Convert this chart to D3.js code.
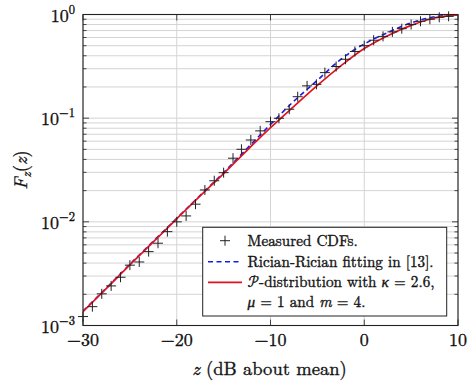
<!DOCTYPE html>
<html><head><meta charset="utf-8">
<script src="https://cdn.jsdelivr.net/npm/d3@7"></script>
<style>body{margin:0;background:#fff}svg{display:block}</style>
</head><body><svg id="c" width="474" height="387"></svg>
<script>
// measured CDF points [z dB, F]
const measuredX = [-30,-29,-28,-27,-26,-25,-24,-23,-22,-21,-20,-19,-18,-17,-16,-15,-14,-13.1,-12.1,-11.1,-10,-9.1,-8,-7.1,-6.1,-5.1,-4.2,-3,-2,-1,0,1,2,3,4,5,6,7,8,9];
const measuredY = [0.00122,0.00152,0.00202,0.00241,0.00292,0.00382,0.0041,0.00516,0.00622,0.00804,0.0100,0.0114,0.0148,0.0203,0.0249,0.0298,0.0411,0.0501,0.0616,0.0754,0.0925,0.0998,0.122,0.161,0.205,0.212,0.275,0.315,0.37,0.44,0.50,0.565,0.615,0.68,0.73,0.80,0.86,0.90,0.94,0.96];
// curves
const curveX = [-30,-27.5,-25,-22.5,-20,-17.5,-15,-12.5,-10,-7.5,-5,-2.5,0,2.5,5,7.5,10];
const ricianY = [0.00138,0.0023,0.0039,0.0065,0.0108,0.018,0.0298,0.051,0.087,0.146,0.232,0.37,0.52,0.67,0.83,0.95,0.995];
const pdistY  = [0.00136,0.00228,0.00385,0.0064,0.0107,0.0178,0.0292,0.049,0.081,0.13,0.207,0.32,0.47,0.625,0.785,0.925,0.99];
const xTicks = [-30,-20,-10,0,10];
const yTicks = [1e-3,1e-2,1e-1,1];
const yTickExp = ["−3","−2","−1","0"];

const FONT='"Latin Modern Roman","Liberation Serif",serif';
const svg = d3.select("#c").style("font-family",FONT);
const L=83,R=458,T=14.5,B=325.5;
const x = d3.scaleLinear().domain([-30,10]).range([L,R]);
const y = d3.scaleLog().domain([1e-3,1]).range([B,T]);

const minor=[];
for(let e=-3;e<0;e++) for(let k=2;k<=9;k++) minor.push(k*Math.pow(10,e));

const grid = svg.append("g").attr("stroke","#d4d4d4").attr("stroke-width",1);
minor.concat(yTicks).forEach(v=>{
  grid.append("line").attr("x1",L).attr("x2",R).attr("y1",y(v)).attr("y2",y(v));
});
xTicks.forEach(v=>{
  grid.append("line").attr("y1",T).attr("y2",B).attr("x1",x(v)).attr("x2",x(v));
});

const tk = svg.append("g").attr("stroke","#333").attr("stroke-width",0.9);
minor.forEach(v=>{
  tk.append("line").attr("x1",L).attr("x2",L+3.5).attr("y1",y(v)).attr("y2",y(v));
  tk.append("line").attr("x1",R).attr("x2",R-3.5).attr("y1",y(v)).attr("y2",y(v));
});
yTicks.forEach(v=>{
  tk.append("line").attr("x1",L).attr("x2",L+6).attr("y1",y(v)).attr("y2",y(v));
  tk.append("line").attr("x1",R).attr("x2",R-6).attr("y1",y(v)).attr("y2",y(v));
});
xTicks.forEach(v=>{
  tk.append("line").attr("x1",x(v)).attr("x2",x(v)).attr("y1",B).attr("y2",B-6);
  tk.append("line").attr("x1",x(v)).attr("x2",x(v)).attr("y1",T).attr("y2",T+6);
});

const line = d3.line().x(d=>x(d[0])).y(d=>y(d[1])).curve(d3.curveMonotoneX);
svg.append("clipPath").attr("id","pc").append("rect").attr("x",L).attr("y",T-1).attr("width",R-L).attr("height",B-T+1);
const plot = svg.append("g").attr("clip-path","url(#pc)");
plot.append("path").attr("d",line(curveX.map((v,i)=>[v,ricianY[i]])))
  .attr("fill","none").attr("stroke","#1a1ae6").attr("stroke-width",1.6).attr("stroke-dasharray","5,3.5");
plot.append("path").attr("d",line(curveX.map((v,i)=>[v,pdistY[i]])))
  .attr("fill","none").attr("stroke","#e0141e").attr("stroke-width",1.7);

const mk = svg.append("g").attr("stroke","#222").attr("stroke-width",1);
const s=5;
measuredX.forEach((v,i)=>{
  const px=x(v), py=y(measuredY[i]);
  mk.append("line").attr("x1",px-s).attr("x2",px+s).attr("y1",py).attr("y2",py);
  mk.append("line").attr("x1",px).attr("x2",px).attr("y1",py-s).attr("y2",py+s);
});

svg.append("rect").attr("x",L).attr("y",T).attr("width",R-L).attr("height",B-T)
  .attr("fill","none").attr("stroke","#222").attr("stroke-width",1.1);

const TS=18, TXT="#111", SW=0.35;
function txt(sel){return sel.attr("fill",TXT).attr("stroke",TXT).attr("stroke-width",SW);}
xTicks.forEach(v=>{
  txt(svg.append("text")).attr("x",x(v)).attr("y",B+20).attr("text-anchor","middle")
    .attr("font-size",TS).text(v<0?"−"+Math.abs(v):String(v));
});
yTicks.forEach((v,i)=>{
  const t=txt(svg.append("text")).attr("x",L-8).attr("y",y(v)+7).attr("text-anchor","end").attr("font-size",TS);
  t.append("tspan").text("10");
  t.append("tspan").attr("dy",-8).attr("font-size",12.5).text(yTickExp[i]);
});

const xl = txt(svg.append("text")).attr("x",(L+R)/2-1).attr("y",375).attr("text-anchor","middle").attr("font-size",18.6);
xl.append("tspan").attr("font-style","italic").text("z");
xl.append("tspan").text(" (dB about mean)");
const yl = txt(svg.append("text")).attr("transform",`translate(27,${(T+B)/2}) rotate(-90)`).attr("text-anchor","middle").attr("font-size",18.6);
yl.append("tspan").attr("font-style","italic").text("F");
yl.append("tspan").attr("font-style","italic").attr("font-size",13).attr("dy",4).text("z");
yl.append("tspan").attr("dy",-4).text("(");
yl.append("tspan").attr("font-style","italic").text("z");
yl.append("tspan").text(")");

const lg = svg.append("g");
lg.append("rect").attr("x",202.7).attr("y",227.3).attr("width",244).attr("height",88.7)
  .attr("fill","#fff").attr("stroke","#222").attr("stroke-width",1);
const rows=[240.7,261.7,282.3,301.7];
const sx0=208, sx1=242, tx=247.5;
lg.append("line").attr("x1",225-s).attr("x2",225+s).attr("y1",rows[0]).attr("y2",rows[0]).attr("stroke","#222");
lg.append("line").attr("x1",225).attr("x2",225).attr("y1",rows[0]-s).attr("y2",rows[0]+s).attr("stroke","#222");
lg.append("line").attr("x1",sx0).attr("x2",sx1).attr("y1",rows[1]).attr("y2",rows[1])
  .attr("stroke","#1a1ae6").attr("stroke-width",1.6).attr("stroke-dasharray","5,3.5");
lg.append("line").attr("x1",sx0).attr("x2",sx1).attr("y1",rows[2]).attr("y2",rows[2])
  .attr("stroke","#e0141e").attr("stroke-width",1.7);
const fs=15.2;
txt(lg.append("text")).attr("x",tx).attr("y",rows[0]+5).attr("font-size",fs).text("Measured CDFs.");
txt(lg.append("text")).attr("x",tx).attr("y",rows[1]+5).attr("font-size",fs).text("Rician-Rician fitting in [13].");
const t3=txt(lg.append("text")).attr("x",tx).attr("y",rows[2]+5).attr("font-size",fs);
t3.append("tspan").style("font-family",'"Latin Modern Math","Latin Modern Roman",serif').text("𝒫");
t3.append("tspan").text("-distribution with ");
t3.append("tspan").attr("font-style","italic").text("κ");
t3.append("tspan").text(" = 2.6,");
const t4=txt(lg.append("text")).attr("x",tx).attr("y",rows[3]+5).attr("font-size",fs);
t4.append("tspan").attr("font-style","italic").text("μ");
t4.append("tspan").text(" = 1 and ");
t4.append("tspan").attr("font-style","italic").text("m");
t4.append("tspan").text(" = 4.");
</script></body></html>
